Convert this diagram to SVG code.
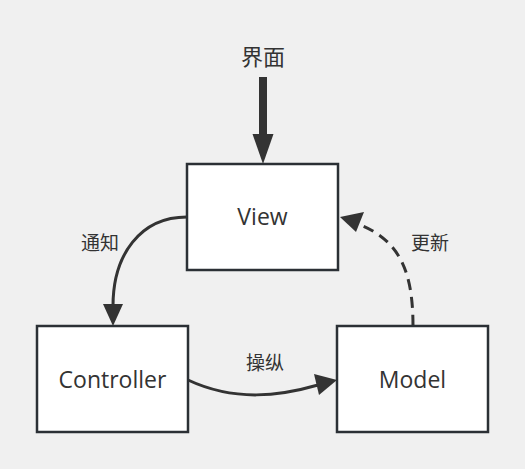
<svg xmlns="http://www.w3.org/2000/svg" width="525" height="469" viewBox="0 0 525 469">
<style>
.node{fill:#ffffff;stroke:#2b3035;stroke-width:2.5}
.lbl{font-family:"Open Sans","Noto Sans CJK SC",sans-serif;font-size:23px;fill:#333333;text-anchor:middle}
.cjk{font-family:"Noto Sans CJK SC","Noto Sans",sans-serif;fill:#333333;text-anchor:middle}
.edge{fill:none;stroke:#333333;stroke-width:3}
</style>
<rect width="525" height="469" fill="#f0f0f0"/>
<g id="connectors">
<path d="M263,77 L263,136" stroke="#333333" stroke-width="8" fill="none"/>
<path d="M252.5,134 L273.5,134 L263,164 Z" fill="#333333"/>
<path class="edge" d="M187,217 C140,217 113,255 113,306"/>
<path d="M103,304 L123,304 L113,326 Z" fill="#333333"/>
<path class="edge" d="M188,380 C235,402 280,396 318,385"/>
<path d="M314,374 L337,380 L319,395 Z" fill="#333333"/>
<path class="edge" stroke-dasharray="11 7" d="M413,326 C413,272 400,240 358,224"/>
<path d="M340,217 L364,212 L356,232 Z" fill="#333333"/>
</g>
<g id="label-jiemian"><text class="cjk" x="263" y="65" font-size="22">界面</text></g>
<g id="label-tongzhi"><text class="cjk" x="100" y="250" font-size="19">通知</text></g>
<g id="label-caozong"><text class="cjk" x="265" y="370" font-size="19">操纵</text></g>
<g id="label-gengxin"><text class="cjk" x="430" y="250" font-size="19">更新</text></g>
<g id="view"><rect class="node" x="187" y="164" width="151" height="106"/><text class="lbl" x="262.5" y="225">View</text></g>
<g id="controller"><rect class="node" x="37" y="326" width="151" height="106"/><text class="lbl" x="112.5" y="388">Controller</text></g>
<g id="model"><rect class="node" x="337" y="326" width="151" height="106"/><text class="lbl" x="412.5" y="388">Model</text></g>
</svg>
